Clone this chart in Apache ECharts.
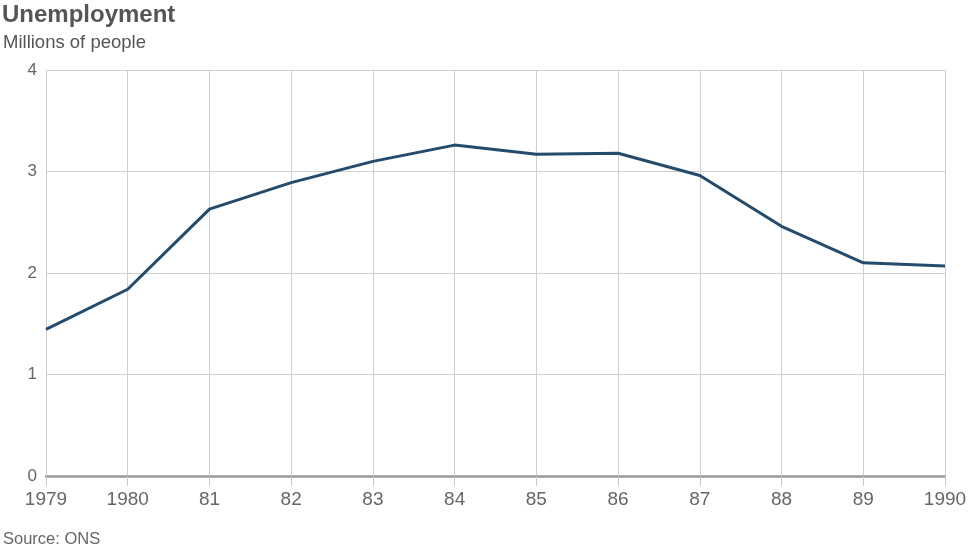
<!DOCTYPE html>
<html><head><meta charset="utf-8">
<script src="https://cdn.jsdelivr.net/npm/echarts@6/dist/echarts.min.js"></script>
<style>html,body{margin:0;padding:0;background:#fff}#c{width:976px;height:552px}</style>
</head><body><div id="c"></div>
<script>
const years = ['1979','1980','81','82','83','84','85','86','87','88','89','1990'];
const unemployment = [1.445, 1.84, 2.63, 2.89, 3.10, 3.26, 3.17, 3.18, 2.96, 2.46, 2.10, 2.07];
const yTicks = [0, 1, 2, 3, 4];

const chart = echarts.init(document.getElementById('c'));
const font = '"Liberation Sans", Arial, sans-serif';
chart.setOption({
  animation: false,
  textStyle: { fontFamily: font },
  title: [
    { text: 'Unemployment', left: 2, top: 3, padding: 0, textStyle: { fontFamily: font, fontSize: 24, fontWeight: 'bold', color: '#555' } },
    { text: 'Millions of people', left: 3, top: 33, padding: 0, textStyle: { fontFamily: font, fontSize: 18.5, fontWeight: 'normal', color: '#555' } },
    { text: 'Source: ONS', left: 3, top: 531, padding: 0, textStyle: { fontFamily: font, fontSize: 16.5, fontWeight: 'normal', color: '#666' } }
  ],
  grid: { left: 46, right: 31, top: 70, bottom: 76, containLabel: false },
  xAxis: {
    type: 'category', data: years, boundaryGap: false,
    axisLine: { show: true, lineStyle: { color: '#9a9a9a', width: 2.5 } },
    axisTick: { show: true, length: 10, lineStyle: { color: '#c8c8c8', width: 1 } },
    axisLabel: { color: '#666', fontSize: 19, margin: 14, fontFamily: font },
    splitLine: { show: true, lineStyle: { color: '#cfcfcf', width: 1 } }
  },
  yAxis: {
    type: 'value', min: yTicks[0], max: yTicks[yTicks.length - 1], interval: 1,
    axisLine: { show: false }, axisTick: { show: false },
    axisLabel: { color: '#666', fontSize: 17, margin: 9, fontFamily: font },
    splitLine: { show: true, lineStyle: { color: '#cfcfcf', width: 1 } }
  },
  series: [{
    type: 'line', data: unemployment, symbol: 'none',
    lineStyle: { color: '#244b6c', width: 3 }
  }]
});
</script></body></html>
